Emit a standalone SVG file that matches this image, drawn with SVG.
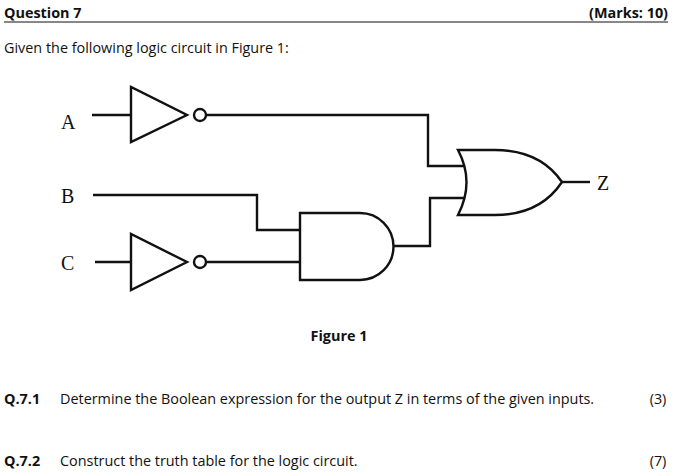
<svg xmlns="http://www.w3.org/2000/svg" width="673" height="473" viewBox="0 0 673 473">
<style>
.t{font-family:"Open Sans","Liberation Sans",sans-serif;font-size:14.4px;fill:#111}
.b{font-weight:bold}
.s{font-family:"Liberation Serif",serif;font-size:20px;fill:#111}
.w{fill:none;stroke:#111;stroke-width:2.4}
.g{fill:#fff;stroke:#111;stroke-width:2.4}
</style>
<rect width="673" height="473" fill="#fff"/>
<text class="t b" x="4" y="18">Question 7</text>
<text class="t b" x="668" y="18" text-anchor="end">(Marks: 10)</text>
<line x1="4" y1="22" x2="668" y2="22" stroke="#111" stroke-width="1"/>
<text class="t" x="4" y="53">Given the following logic circuit in Figure 1:</text>
<text class="s" x="61" y="129">A</text>
<text class="s" x="61" y="203">B</text>
<text class="s" x="61" y="270">C</text>
<text class="s" x="597" y="190">Z</text>
<g id="connectors">
<polyline class="w" points="92,115 131,115"/>
<polyline class="w" points="205,115 428,115 428,166 464,166"/>
<polyline class="w" points="93,195 257,195 257,230 300,230"/>
<polyline class="w" points="95,262 131,262"/>
<polyline class="w" points="205,262 300,262"/>
<polyline class="w" points="393,246 430,246 430,198 464,198"/>
<polyline class="w" points="562,182 590,182"/>
</g>
<g id="notA"><polygon class="g" points="131,87 131,142 187,115"/><circle class="g" cx="200" cy="115" r="6"/></g>
<g id="notC"><polygon class="g" points="131,234 131,290 187,262"/><circle class="g" cx="200" cy="262" r="6"/></g>
<g id="and"><path class="g" d="M300,213 H360 A33,33 0 0 1 360,280 H300 Z"/></g>
<g id="or"><path class="g" d="M458,150 H495 Q540,150 562,182 Q540,215 495,215 H458 Q475,182 458,150 Z"/></g>
<text class="t b" x="339" y="341" text-anchor="middle">Figure 1</text>
<text class="t b" x="4" y="404">Q.7.1</text>
<text class="t" x="60" y="404">Determine the Boolean expression for the output Z in terms of the given inputs.</text>
<text class="t" x="658" y="404" text-anchor="middle">(3)</text>
<text class="t b" x="4" y="466">Q.7.2</text>
<text class="t" x="60" y="466">Construct the truth table for the logic circuit.</text>
<text class="t" x="658" y="466" text-anchor="middle">(7)</text>
</svg>
